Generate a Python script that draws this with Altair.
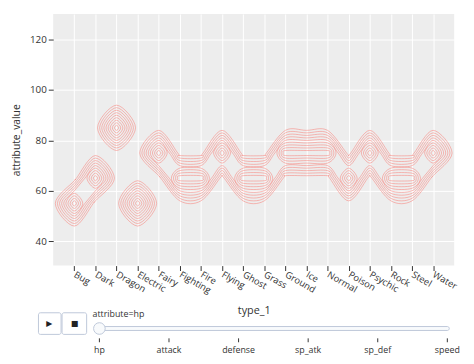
import altair as alt
import numpy as np
import pandas as pd

# ---- data (attribute = hp) ----
types = ["Bug", "Dark", "Dragon", "Electric", "Fairy", "Fighting", "Fire", "Flying",
         "Ghost", "Grass", "Ground", "Ice", "Normal", "Poison", "Psychic", "Rock",
         "Steel", "Water"]
hp_values = [55, 65, 85, 55, 75, 65, 65, 75, 65, 65, 75, 75, 75, 65, 75, 65, 65, 75]
attributes = ["hp", "attack", "defense", "sp_atk", "sp_def", "speed"]
current_attribute = "hp"
y_bin_size = 10
y_ticks = [40, 60, 80, 100, 120]

# ---- 2D histogram (categories x 10-wide bins), padded with empty bins ----
n = len(types)
xs = np.arange(-1, n + 1, dtype=float)
lo = (min(hp_values) // y_bin_size - 1) * y_bin_size
hi = (max(hp_values) // y_bin_size + 2) * y_bin_size
ys = np.arange(lo, hi, y_bin_size) + y_bin_size / 2
z = np.zeros((len(ys), len(xs)))
for i, v in enumerate(hp_values):
    j = int((v - lo) // y_bin_size)
    z[j, i + 1] += 1

# contour levels like plotly's autocontour (ncontours = 15)
zmax = z.max()
rough = zmax / 15
base = 10 ** np.floor(np.log10(rough))
step = base * min(m for m in (2, 5, 10) if m >= rough / base - 1e-12)
levels = np.arange(step, zmax - 1e-9, step)


def contour_loops(level):
    ny, nx = z.shape

    def point(e):
        kind, j, i = e
        if kind == "h":
            z1, z2 = z[j, i], z[j, i + 1]
            t = (level - z1) / (z2 - z1)
            return xs[i] + t * (xs[i + 1] - xs[i]), ys[j]
        z1, z2 = z[j, i], z[j + 1, i]
        t = (level - z1) / (z2 - z1)
        return xs[i], ys[j] + t * (ys[j + 1] - ys[j])

    adj = {}
    for j in range(ny - 1):
        for i in range(nx - 1):
            a, b, c, d = z[j, i], z[j, i + 1], z[j + 1, i + 1], z[j + 1, i]
            ha, hb, hc, hd = a >= level, b >= level, c >= level, d >= level
            bottom, top = ("h", j, i), ("h", j + 1, i)
            left, right = ("v", j, i), ("v", j, i + 1)
            crossed = []
            if ha != hb:
                crossed.append(bottom)
            if hb != hc:
                crossed.append(right)
            if hc != hd:
                crossed.append(top)
            if hd != ha:
                crossed.append(left)
            if len(crossed) == 2:
                pairs = [tuple(crossed)]
            elif len(crossed) == 4:
                center_high = (a + b + c + d) / 4 >= level
                if ha:
                    pairs = [(bottom, right), (top, left)] if center_high else [(bottom, left), (top, right)]
                else:
                    pairs = [(bottom, left), (top, right)] if center_high else [(bottom, right), (top, left)]
            else:
                pairs = []
            for p, q in pairs:
                adj.setdefault(p, []).append(q)
                adj.setdefault(q, []).append(p)

    loops, visited = [], set()
    for start in adj:
        if start in visited:
            continue
        loop, cur = [start], start
        visited.add(start)
        while True:
            nxt = [e for e in adj[cur] if e not in visited]
            if not nxt:
                break
            cur = nxt[0]
            visited.add(cur)
            loop.append(cur)
        loops.append([point(e) for e in loop])
    return loops


rows = []
cid = 0
for lev in levels:
    for loop in contour_loops(lev):
        for k, (px, py) in enumerate(loop):
            rows.append({"cid": cid, "ord": k, "x": px, "y": py, "level": lev})
        cid += 1
contours = pd.DataFrame(rows)

FONT = "Open Sans"
TXT = "#333333"
label_expr = "[" + ",".join("'%s'" % t for t in types) + "][datum.value]"

W, H = 408, 256

lines = alt.Chart(contours).mark_line(
    interpolate="cardinal-closed", strokeWidth=0.5, color="#F8766D"
).encode(
    x=alt.X("x:Q", scale=alt.Scale(domain=[-1, n], nice=False, zero=False),
            axis=alt.Axis(values=list(range(n)), labelExpr=label_expr, labelAngle=30,
                          labelAlign="left", labelBaseline="middle", labelPadding=3,
                          labelOverlap=False, labelFlush=False,
                          tickSize=5, tickColor=TXT, labelColor=TXT, labelFontSize=9.5,
                          labelFont=FONT, grid=True, gridColor="white", gridWidth=1,
                          domain=False, title="type_1", titleFont=FONT, titleFontSize=11,
                          titleFontWeight="normal", titleColor=TXT, titleY=46,
                          titleBaseline="middle")),
    y=alt.Y("y:Q", scale=alt.Scale(domain=[30.3, 130.2], nice=False, zero=False),
            axis=alt.Axis(values=y_ticks, tickSize=5, tickColor=TXT, labelColor=TXT,
                          labelFontSize=10, labelFont=FONT, labelPadding=2, grid=True,
                          gridColor="white", gridWidth=1, domain=False,
                          title="attribute_value", titleFont=FONT, titleFontSize=10.5,
                          titleFontWeight="normal", titleColor=TXT, titleX=-37,
                          titleY=H / 2, titleBaseline="middle", titleAlign="center",
                          titleAngle=270)),
    detail="cid:N",
    order="ord:Q",
)

# ---- slider / animation controls ----
attr_df = pd.DataFrame({"attribute": attributes})
cur_df = pd.DataFrame({"attribute": [current_attribute],
                       "label": ["attribute=" + current_attribute]})
one = pd.DataFrame({"k": [0]})
sx = alt.X("attribute:N", scale=alt.Scale(type="point", domain=attributes, range=[47, 401], padding=0),
           axis=None)

rail = alt.Chart(one).mark_rect(cornerRadius=2, fill="#F8FAFC", stroke="#BEC8D9", strokeWidth=1).encode(
    x=alt.value(42), x2=alt.value(403), y=alt.value(318), y2=alt.value(322))
ticks = alt.Chart(attr_df).mark_rule(color=TXT, strokeWidth=1).encode(
    x=sx, y=alt.value(330), y2=alt.value(334))
tick_labels = alt.Chart(attr_df).mark_text(font=FONT, fontSize=9, color=TXT, baseline="middle").encode(
    x=sx, y=alt.value(342), text="attribute:N")
handle = alt.Chart(cur_df).mark_point(shape="circle", size=140, filled=True, fill="#F8FAFC",
                                      stroke="#BEC8D9", strokeWidth=1, opacity=1).encode(
    x=sx, y=alt.value(320))
cur_label = alt.Chart(cur_df).mark_text(font=FONT, fontSize=9, color=TXT, align="left",
                                        baseline="middle").encode(
    x=alt.value(40), y=alt.value(305), text="label:N")
btn1 = alt.Chart(one).mark_rect(cornerRadius=2, fill="white", stroke="#BEC8D9").encode(
    x=alt.value(-15), x2=alt.value(8), y=alt.value(304), y2=alt.value(326))
btn2 = alt.Chart(one).mark_rect(cornerRadius=2, fill="white", stroke="#BEC8D9").encode(
    x=alt.value(9), x2=alt.value(34), y=alt.value(304), y2=alt.value(326))
play = alt.Chart(one).mark_text(text="\u25B6", font="DejaVu Sans", fontSize=8, color="#222").encode(
    x=alt.value(-4), y=alt.value(315))
stop = alt.Chart(one).mark_text(text="\u25A0", font="DejaVu Sans", fontSize=8, color="#222").encode(
    x=alt.value(22), y=alt.value(315))

slider = alt.layer(rail, ticks, tick_labels, handle, cur_label, btn1, btn2, play, stop)

chart = alt.layer(lines, slider).resolve_scale(x="independent", y="independent").properties(
    width=W, height=H,
    autosize=alt.AutoSizeParams(type="none"),
    padding={"left": 46, "top": 3, "right": 12, "bottom": 96},
).configure_view(fill="rgb(237,237,237)", strokeWidth=0)

chart.save("out.html", embed_options={"renderer": "svg", "actions": False})
